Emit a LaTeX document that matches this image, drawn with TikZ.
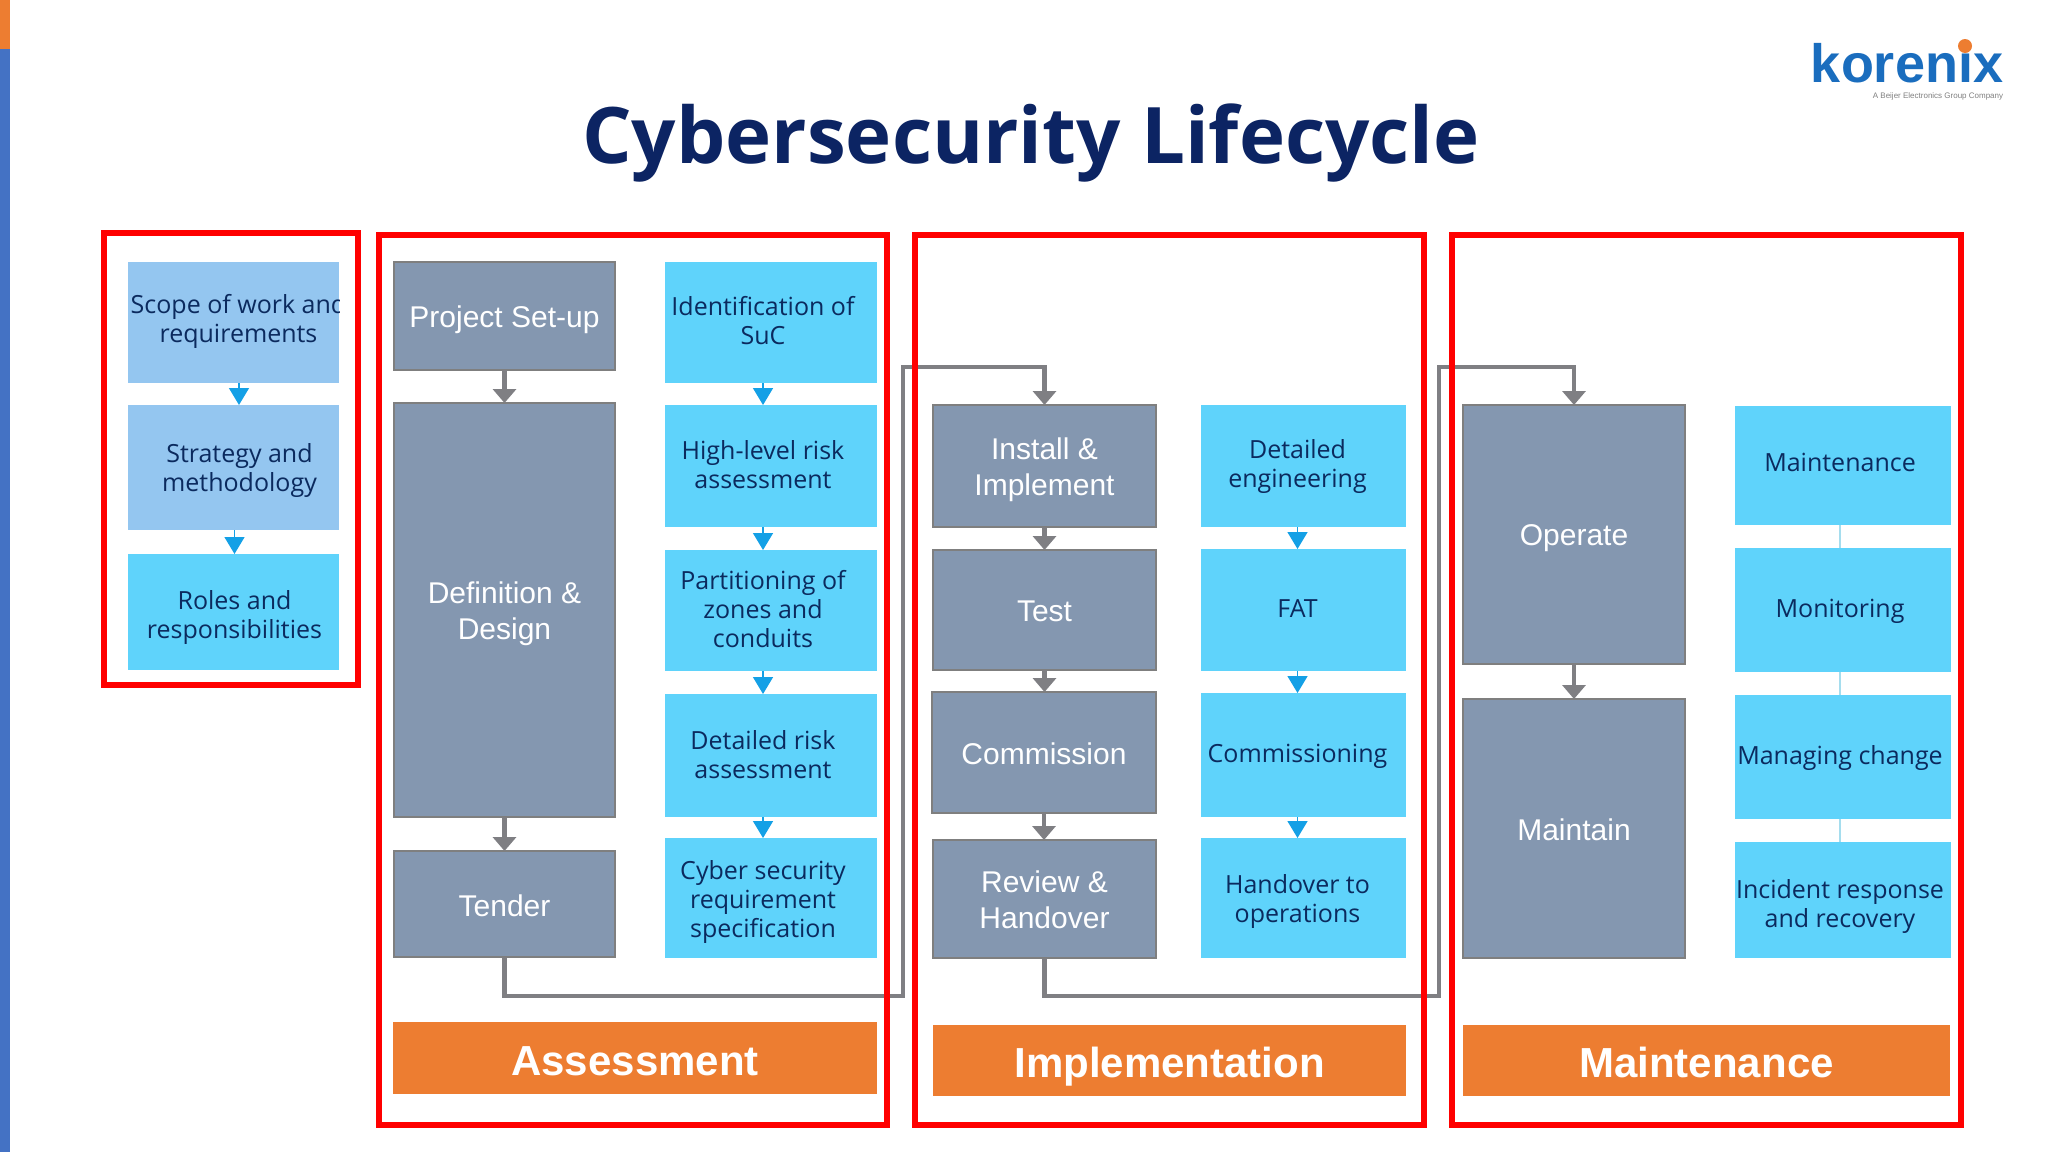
\documentclass[tikz,border=0pt]{standalone}
\usepackage{fontspec}
\setmainfont{Liberation Sans}
\newfontfamily\stepfont{Open Sans}
\newfontfamily\titlefont[BoldFont=* Bold]{Open Sans}
\usetikzlibrary{arrows.meta}

\definecolor{barorange}{HTML}{ED7D31}
\definecolor{barblue}{HTML}{4472C4}
\definecolor{slate}{HTML}{8497B0}
\definecolor{slateline}{HTML}{7F7F7F}
\definecolor{skycyan}{HTML}{5FD3FB}
\definecolor{paleblue}{HTML}{94C6F0}
\definecolor{navytext}{HTML}{0B2A5E}
\definecolor{titlenavy}{HTML}{0C2463}
\definecolor{flowgrey}{HTML}{7F7F83}
\definecolor{tipblue}{HTML}{14A0E6}
\definecolor{linkpale}{HTML}{A5DDEE}
\definecolor{logoblue}{HTML}{1A6DBE}
\definecolor{framered}{HTML}{FF0000}

\begin{document}
\begin{tikzpicture}[
    x=1pt, y=-1pt,
    anyblock/.style={inner sep=0pt, outer sep=0pt},
    phase frame/.style={anyblock, draw=framered, line width=6pt},
    activity/.style={anyblock, fill=slate, draw=slateline, line width=1.2pt},
    activity text/.style={anyblock, text=white, align=center, font=\fontsize{30}{36}\selectfont},
    stepblock/.style={anyblock, fill=skycyan},
    stepblock pale/.style={anyblock, fill=paleblue},
    steptext/.style={anyblock, text=navytext, align=center, font=\stepfont\fontsize{25}{29}\selectfont},
    phase bar/.style={anyblock, fill=barorange, text=white, text height=34pt, text depth=0pt,
        font=\bfseries\fontsize{42}{48}\selectfont},
    flow/.style={draw=flowgrey, line width=4.5pt, -{Triangle[width=23pt,length=14pt]}},
    steptip/.style={draw=tipblue, line width=1.5pt, -{Triangle[width=20pt,length=17pt]}},
    steplink/.style={draw=linkpale, line width=2pt}
]
    \useasboundingbox (0,0) rectangle (2048,1152);
    \fill[white] (0,0) rectangle (2048,1152);

    % Side bar
    \node[anyblock, fill=barorange, minimum width=10pt, minimum height=49pt] (bar-top) at (5,24.5) {};
    \node[anyblock, fill=barblue, minimum width=10pt, minimum height=1103pt] (bar-low) at (5,600.5) {};

    % Title and logo
    \node[anyblock, text=titlenavy, font=\titlefont\bfseries\fontsize{78}{86}\selectfont] (title) at (1031,143) {Cybersecurity Lifecycle};
    \node[anyblock, text=logoblue, font=\bfseries\fontsize{54}{60}\selectfont] (logo) at (1907,63) {korenix};
    \node[anyblock, circle, fill=barorange, minimum size=14pt] (logo-dot) at (1965,46) {};
    \node[anyblock, text=black!50, font=\fontsize{8}{9}\selectfont] (logo-sub) at (1938,96) {A Beijer Electronics Group Company};

    % Draw the first step column
    \node[stepblock pale, minimum width=211pt, minimum height=121pt,
        path picture={\node[steptext] at ([xshift=5pt,yshift=1pt]path picture bounding box.center) {Scope of work and\\requirements};}]
        (scope) at (233.5,322.5) {};
    \foreach \name/\fillstyle/\ya/\yb/\dx/\dy/\txt in {
        strategy/stepblock pale/405/530/6/-3/{Strategy and\\methodology},
        roles/stepblock/554/670/1/-5/{Roles and\\responsibilities}}
        \node[\fillstyle, minimum width=211pt, minimum height=(\yb-\ya)*1pt,
            label={[steptext,xshift=\dx pt,yshift=\dy pt]center:{\txt}}] (\name) at (233.5,{(\ya+\yb)/2}) {};

    % Draw the activity blocks
    \foreach \name/\xa/\xb/\ya/\yb/\dy/\txt in {
        setup/394/615/262/370/-4/{Project Set-up},
        define/394/615/403/817/-4/{Definition \&\\Design},
        tender/394/615/851/957/-2/{Tender},
        install/933/1156/405/527/-4/{Install \&\\Implement},
        test/933/1156/550/670/-1/{Test},
        commission/932/1156/692/813/-1/{Commission},
        review/933/1156/840/958/-1/{Review \&\\Handover},
        operate/1463/1685/405/664/-4/{Operate},
        maintain/1463/1685/699/958/-1/{Maintain}}
        \node[activity, minimum width=(\xb-\xa)*1pt, minimum height=(\yb-\ya)*1pt,
            label={[activity text,yshift=\dy pt]center:{\txt}}] (\name) at ({(\xa+\xb)/2},{(\ya+\yb)/2}) {};

    % Draw the second step column
    \foreach \name/\ya/\yb/\dy/\txt in {
        suc/262/383/2/{Identification of\\SuC},
        highrisk/405/527/1/{High-level risk\\assessment},
        zones/550/671/1/{Partitioning of\\zones and\\conduits},
        detailrisk/694/817/1/{Detailed risk\\assessment},
        csrs/838/958/-4/{Cyber security\\requirement\\specification}}
        \node[stepblock, minimum width=212pt, minimum height=(\yb-\ya)*1pt,
            label={[steptext,xshift=-8pt,yshift=\dy pt]center:{\txt}}] (\name) at (771,{(\ya+\yb)/2}) {};

    % Draw the third step column
    \foreach \name/\ya/\yb/\dy/\txt in {
        engineering/405/527/0/{Detailed\\engineering},
        fat/549/671/1/{FAT},
        commissioning/693/817/-1/{Commissioning},
        handover/838/958/-3/{Handover to\\operations}}
        \node[stepblock, minimum width=205pt, minimum height=(\yb-\ya)*1pt,
            label={[steptext,xshift=-6pt,yshift=\dy pt]center:{\txt}}] (\name) at (1303.5,{(\ya+\yb)/2}) {};

    % Draw the fourth step column
    \foreach \name/\ya/\yb/\dy/\txt in {
        upkeep/406/525/3/{Maintenance},
        monitoring/548/672/-1/{Monitoring},
        change/695/819/-1/{Managing change},
        incident/842/958/-6/{Incident response\\and recovery}}
        \node[stepblock, minimum width=216pt, minimum height=(\yb-\ya)*1pt,
            label={[steptext,xshift=-3pt,yshift=\dy pt]center:{\txt}}] (\name) at (1843,{(\ya+\yb)/2}) {};

    % Phase bars
    \node[phase bar, minimum width=484pt, minimum height=72pt] (assessment) at (635,1058) {Assessment};
    \node[phase bar, minimum width=473pt, minimum height=71pt] (implementation) at (1169.5,1060.5) {Implementation};
    \node[phase bar, minimum width=487pt, minimum height=71pt] (maintenance) at (1706.5,1060.5) {Maintenance};

    % Connect the activity blocks
    \foreach \source/\dest in {setup/define,define/tender,install/test,test/commission,commission/review,operate/maintain}
        \draw[flow] (\source.south) -- (\source.south |- \dest.north);

    % Connect the step blocks
    \draw[steptip] ([xshift=5.5pt]scope.south) -- ([xshift=5.5pt]scope.south |- strategy.north);
    \draw[steptip] ([xshift=1pt]strategy.south) -- ([xshift=1pt]strategy.south |- roles.north);
    \foreach \source/\dest in {suc/highrisk,highrisk/zones,zones/detailrisk,detailrisk/csrs}
        \draw[steptip] ([xshift=-8pt]\source.south) -- ([xshift=-8pt]\dest.north);
    \foreach \source/\dest in {engineering/fat,fat/commissioning,commissioning/handover}
        \draw[steptip] ([xshift=-6pt]\source.south) -- ([xshift=-6pt]\dest.north);
    \foreach \source/\dest in {upkeep/monitoring,monitoring/change,change/incident}
        \draw[steplink] ([xshift=-3pt]\source.south) -- ([xshift=-3pt]\dest.north);

    % Connect the phases
    \coordinate (turn-a) at (903,996);
    \coordinate (turn-b) at (903,367);
    \coordinate (turn-c) at (1439,996);
    \coordinate (turn-d) at (1439,367);
    \draw[flow] (tender.south) |- (turn-a) -- (turn-b) -| (install.north);
    \draw[flow] (review.south) |- (turn-c) -- (turn-d) -| (operate.north);

    % Draw the red frames on top
    \foreach \name/\xa/\xb/\ya/\yb in {1/104/358/233/685, 2/379/887/235/1125, 3/915/1424/235/1125, 4/1452/1961/235/1125}
        \node[phase frame, minimum width=(\xb-\xa)*1pt, minimum height=(\yb-\ya)*1pt] (frame-\name) at ({(\xa+\xb)/2},{(\ya+\yb)/2}) {};
\end{tikzpicture}
\end{document}
